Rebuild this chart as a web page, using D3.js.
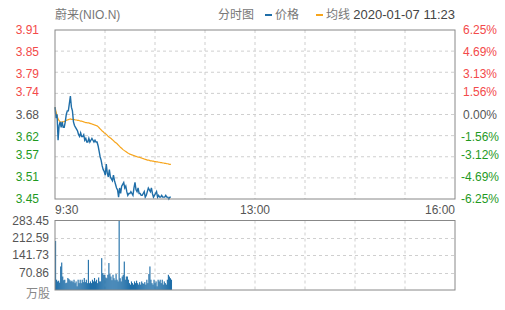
<!DOCTYPE html>
<html>
<head>
<meta charset="utf-8">
<script src="https://cdn.jsdelivr.net/npm/d3@7"></script>
<style>
    body { margin: 0; background: #fff; }
    text { font-family: Arial, "Liberation Sans", "Noto Sans CJK SC", sans-serif; font-size: 12px; }
</style>
</head>
<body>
<svg id="Target" width="505" height="310"></svg>
<script>

const prevClose = 3.68;

const priceTicks = [3.91, 3.85, 3.79, 3.74, 3.68, 3.62, 3.57, 3.51, 3.45];
const pctTicks = ["6.25%", "4.69%", "3.13%", "1.56%", "0.00%", "-1.56%", "-3.12%", "-4.69%", "-6.25%"];
const volTicks = [283.45, 212.59, 141.73, 70.86];

const timeTicks = [0, 195, 390];
const timeLabels = ["9:30", "13:00", "16:00"];

// one value per minute from 9:30
const price = [
    3.70, 3.67, 3.68, 3.61, 3.65, 3.66, 3.645, 3.66, 3.645, 3.645,
    3.66, 3.68, 3.69, 3.69, 3.71, 3.73, 3.70, 3.69, 3.66, 3.65,
    3.645, 3.64, 3.635, 3.625, 3.62, 3.63, 3.62, 3.62, 3.625, 3.61,
    3.615, 3.605, 3.605, 3.615, 3.605, 3.61, 3.615, 3.61, 3.605, 3.61,
    3.605, 3.605, 3.595, 3.58, 3.565, 3.555, 3.54, 3.53, 3.525, 3.515,
    3.545, 3.52, 3.51, 3.53, 3.51, 3.505, 3.50, 3.515, 3.50, 3.49,
    3.48, 3.475, 3.455, 3.48, 3.465, 3.485, 3.49, 3.495, 3.48, 3.485,
    3.47, 3.46, 3.465, 3.465, 3.47, 3.465, 3.46, 3.48, 3.495, 3.475,
    3.47, 3.48, 3.465, 3.465, 3.46, 3.46, 3.465, 3.47, 3.455, 3.46,
    3.47, 3.48, 3.475, 3.47, 3.48, 3.465, 3.455, 3.46, 3.465, 3.47,
    3.455, 3.46, 3.455, 3.455, 3.46, 3.455, 3.455, 3.455, 3.46, 3.455,
    3.455, 3.45, 3.455, 3.455
];

const avgPrice = [
    3.700, 3.688, 3.676, 3.668, 3.663, 3.660, 3.659, 3.660, 3.660, 3.661,
    3.662, 3.664, 3.665, 3.666, 3.667, 3.668, 3.667, 3.667, 3.666, 3.666,
    3.665, 3.665, 3.664, 3.664, 3.663, 3.662, 3.662, 3.661, 3.660, 3.659,
    3.658, 3.658, 3.657, 3.657, 3.656, 3.655, 3.654, 3.653, 3.652, 3.651,
    3.650, 3.649, 3.647, 3.644, 3.641, 3.638, 3.635, 3.633, 3.630, 3.628,
    3.626, 3.623, 3.620, 3.618, 3.616, 3.614, 3.611, 3.609, 3.606, 3.604,
    3.602, 3.599, 3.596, 3.593, 3.590, 3.588, 3.585, 3.583, 3.581, 3.579,
    3.577, 3.575, 3.574, 3.572, 3.571, 3.570, 3.569, 3.568, 3.567, 3.566,
    3.565, 3.564, 3.564, 3.563, 3.562, 3.561, 3.560, 3.559, 3.558, 3.557,
    3.556, 3.556, 3.555, 3.554, 3.554, 3.553, 3.553, 3.552, 3.552, 3.551,
    3.551, 3.550, 3.550, 3.549, 3.549, 3.548, 3.548, 3.547, 3.547, 3.546,
    3.546, 3.545, 3.544, 3.544
];

const volume = [
    200, 42, 35, 38, 30, 96, 112, 55, 40, 42,
    28, 30, 49, 45, 40, 35, 38, 32, 42, 28,
    35, 15, 42, 28, 42, 28, 42, 32, 49, 32,
    42, 28, 123, 28, 35, 28, 42, 35, 49, 35,
    42, 28, 51, 35, 35, 130, 69, 62, 62, 51,
    48, 62, 110, 65, 55, 40, 62, 48, 40, 65,
    42, 35, 283.45, 48, 35, 55, 62, 116, 42, 55,
    55, 42, 28, 22, 35, 28, 22, 35, 28, 38,
    28, 22, 32, 22, 35, 28, 25, 32, 22, 42,
    28, 65, 96, 42, 28, 22, 42, 28, 35, 15,
    42, 35, 42, 28, 42, 22, 35, 28, 22, 42,
    62, 55, 48, 42
];

const left = 55, right = 455;
const priceTop = 30, priceBottom = 199;
const volTop = 220.5, volBottom = 290;

const red = "#f34a4a", green = "#1f9a1f", gray = "#555";
const lineBlue = "#1f6ea8", lineOrange = "#f7a51c";

const svg = d3.select("#Target");

const x = d3.scaleLinear().domain([0, 390]).range([left, right]);

const y = d3.scaleLinear()
    .domain([priceTicks[priceTicks.length - 1], priceTicks[0]])
    .range([priceBottom, priceTop]);

const yVol = d3.scaleLinear().domain([0, volTicks[0]]).range([volBottom, volTop]);

// grid
const gridColor = "#cfcfcf";
const colX = d3.range(1, 8).map(i => left + i * (right - left) / 8);

const priceRowY = d3.range(1, 8).map(i => priceTop + i * (priceBottom - priceTop) / 8);
svg.selectAll("line.pgrid-h")
    .data(priceRowY)
    .enter()
    .append("line")
    .attr("x1", left).attr("x2", right)
    .attr("y1", d => d).attr("y2", d => d)
    .attr("stroke", gridColor)
    .attr("stroke-dasharray", "3 3");

svg.selectAll("line.pgrid-v")
    .data(colX)
    .enter()
    .append("line")
    .attr("x1", d => d).attr("x2", d => d)
    .attr("y1", priceTop).attr("y2", priceBottom)
    .attr("stroke", gridColor)
    .attr("stroke-dasharray", "3 3");

svg.selectAll("line.vgrid-h")
    .data(volTicks.slice(1))
    .enter()
    .append("line")
    .attr("x1", left).attr("x2", right)
    .attr("y1", d => Math.round(yVol(d)) + 0.5).attr("y2", d => Math.round(yVol(d)) + 0.5)
    .attr("stroke", gridColor)
    .attr("stroke-dasharray", "3 3");

svg.selectAll("line.vgrid-v")
    .data(colX)
    .enter()
    .append("line")
    .attr("x1", d => d).attr("x2", d => d)
    .attr("y1", volTop).attr("y2", volBottom)
    .attr("stroke", gridColor)
    .attr("stroke-dasharray", "3 3");

// volume bars
svg.selectAll("rect.vol")
    .data(volume)
    .enter()
    .append("rect")
    .attr("x", (d, i) => x(i))
    .attr("width", x(1) - x(0) + 0.1)
    .attr("y", d => yVol(d))
    .attr("height", d => volBottom - yVol(d))
    .attr("fill", lineBlue);

// price + average lines
const line = d3.line()
    .x((d, i) => x(i))
    .y(d => y(d));

svg.append("path")
    .attr("d", line(avgPrice))
    .attr("fill", "none")
    .attr("stroke", lineOrange)
    .attr("stroke-width", 1.2);

svg.append("path")
    .attr("d", line(price))
    .attr("fill", "none")
    .attr("stroke", lineBlue)
    .attr("stroke-width", 1.4);

// frames
svg.append("rect")
    .attr("x", left).attr("y", priceTop)
    .attr("width", right - left).attr("height", priceBottom - priceTop)
    .attr("fill", "none").attr("stroke", "#888");

svg.append("rect")
    .attr("x", left).attr("y", volTop)
    .attr("width", right - left).attr("height", volBottom - volTop)
    .attr("fill", "none").attr("stroke", "#888");

// axis labels
const labelColor = v => v > prevClose ? red : (v < prevClose ? green : gray);

svg.selectAll("text.price")
    .data(priceTicks)
    .enter()
    .append("text")
    .attr("x", 39)
    .attr("y", d => y(d) + 4)
    .attr("text-anchor", "end")
    .attr("fill", labelColor)
    .text(d => d.toFixed(2));

svg.selectAll("text.pct")
    .data(pctTicks)
    .enter()
    .append("text")
    .attr("x", (d, i) => d[0] === "-" ? 461 : 463)
    .attr("y", (d, i) => y(priceTicks[i]) + 4)
    .attr("fill", (d, i) => labelColor(priceTicks[i]))
    .text(d => d);

svg.selectAll("text.time")
    .data(timeTicks)
    .enter()
    .append("text")
    .attr("x", d => d === 0 ? x(d) : (d === 390 ? x(d) : left + (right - left) / 2))
    .attr("y", 214)
    .attr("text-anchor", (d, i) => i === 0 ? "start" : (i === timeTicks.length - 1 ? "end" : "middle"))
    .attr("fill", gray)
    .text((d, i) => timeLabels[i]);

svg.selectAll("text.vol")
    .data(volTicks)
    .enter()
    .append("text")
    .attr("x", 49)
    .attr("y", d => yVol(d) + 4)
    .attr("text-anchor", "end")
    .attr("fill", gray)
    .text(d => d.toFixed(2));

svg.append("text")
    .attr("x", 50).attr("y", 298)
    .attr("text-anchor", "end")
    .attr("fill", "#888")
    .text("万股");

// header
svg.append("text")
    .attr("x", 55).attr("y", 19)
    .attr("fill", "#777")
    .text("蔚来(NIO.N)");

svg.append("text")
    .attr("x", 218).attr("y", 19)
    .attr("fill", "#777")
    .text("分时图");

svg.append("line")
    .attr("x1", 265).attr("x2", 272).attr("y1", 15).attr("y2", 15)
    .attr("stroke", lineBlue).attr("stroke-width", 2);

svg.append("text")
    .attr("x", 275).attr("y", 19)
    .attr("fill", "#777")
    .text("价格");

svg.append("line")
    .attr("x1", 316).attr("x2", 323).attr("y1", 15).attr("y2", 15)
    .attr("stroke", lineOrange).attr("stroke-width", 2);

svg.append("text")
    .attr("x", 326).attr("y", 19)
    .attr("fill", "#777")
    .text("均线");

svg.append("text")
    .attr("x", 455).attr("y", 19)
    .attr("text-anchor", "end")
    .attr("fill", "#444")
    .style("font-size", "13px")
    .text("2020-01-07 11:23");

</script>
</body>
</html>
